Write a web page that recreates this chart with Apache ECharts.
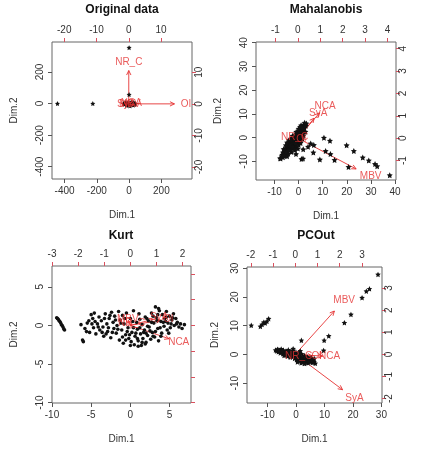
<!DOCTYPE html>
<html><head><meta charset="utf-8">
<script src="https://cdn.jsdelivr.net/npm/echarts@6/dist/echarts.min.js"></script>
<style>html,body{margin:0;padding:0;background:#fff}#c{width:428px;height:454px}</style>
</head><body><div id="c"></div>
<script>
const titles = ['Original data', 'Mahalanobis', 'Kurt', 'PCOut'];
const varNames = ['NR_C', 'Ol', 'SyA', 'MBV', 'NCA'];

// scores (primary axes)
const origPoints = [[-444,0],[-225,0],[0,354],[0,57],[-30,-5],[-20,3],[-10,-8],[0,0],[10,5],[20,-3],[30,2],[-15,-12],[5,-15],[25,-10],[-25,8],[15,10],[35,-6],[-35,0],[40,0],[-5,6],[8,-4],[18,4],[-12,-2],[28,7]];
const mahaPoints = [
 [-7.5,-8.8],[-6.5,-8.2],[-5.8,-7.5],[-6.8,-7.2],[-6.2,-7],[-5,-7.3],[-5.5,-6.5],[-4.3,-6.8],
 [-5.8,-5.5],[-4.5,-5.8],[-3.5,-5.2],[-5,-4.8],[-3,-6],[-5,-4],[-4,-3.6],[-3,-4.2],[-2,-4.6],[-4.5,-3],
 [-4.5,-2.5],[-3.5,-2],[-2.5,-2.8],[-1.5,-3],[-0.5,-2.2],[-3,-1.5],[-4,-1],[-3,-0.5],[-2,-1.2],[-1,-0.8],[0,-1.5],[1,-1],[-2.5,0],
 [-2.5,0.8],[-1.5,0.3],[-0.5,1],[0.5,0.2],[1.5,-0.3],[-1,1.8],[-1,2.5],[0,2],[1,1.5],[2,1],[0.5,3],
 [0,3.8],[1,3.5],[2,3],[2.8,2.5],[1.5,4.5],[1,5.2],[2,5.5],[3,5],[2.5,6.3],[3.2,6],[-2,-3.5],[-1,-3.8],[0,-3],[-3.8,-4.5],[-6,-6],
 [-6.5,-6.2],[-5.2,-6],[-4,-5],[-3.2,-3.2],[-2.2,-2],[-1.8,-0.5],[-0.8,0],[0.2,0.8],[0.8,2.3],[1.6,2.2],[0.3,-0.6],[-0.5,-1.6],[-1.3,-2.2],[-2.7,-3.8],[-3.8,-3],[-3.5,-0.8],[-2,0.6],[-0.2,1.4],[1.4,0.6],[2.4,4.2],[0.6,4.5],[1.8,3.8],[-4.8,-2],[-5.3,-3.2],[-6.2,-4.8],[-7,-7.8],[-4.8,-7.8],[0.8,-2.2],[-0.3,-4.5],[-1.5,-5.2],
 [10.5,0],[13,-1.3],[19.9,-3.2],[22.9,-5.6],[26.6,-8.3],[29.1,-9.6],[31.7,-11.1],[32.6,-12],[37.8,-15.8],[20.7,-12.3],[14.9,-9.4],[13.2,-6.9],[11.2,-5.6],[8.8,-9.2],[6.1,-6.2],[1.2,-9.0],[1.8,-8.8],[6.3,-3.1],[5,-2.4],[3.9,-3.8],[1.9,-4.9],[-1.1,-6.9],[-6.1,-7.6],[-7.7,-8.6]
];
const kurtPoints = [
 [-9.4,1.0],[-9.3,0.9],[-9.2,0.8],[-9.1,0.6],[-9.0,0.5],[-8.9,0.35],[-8.8,0.1],[-8.7,0.0],[-8.6,-0.2],[-8.5,-0.45],[-8.4,-0.6],
 [-6.3,0.1],[-6.1,-1.9],[-6.0,-2.1],[-5.8,-0.4],[-5.5,0.3],[-5.2,-0.9],[-5.0,1.4],[-4.8,0.9],[-4.7,-0.3],[-4.5,0.5],[-4.4,-1.1],[-4.2,0.2],[-4.0,1.1],[-3.9,-0.6],[-3.7,0.6],[-3.5,-0.2],[-3.4,-1.4],[-3.2,1.5],[-3.0,0.2],[-2.9,-0.8],[-2.7,0.9],
 [-5.6,-0.8],[-4.9,0.2],[-4.6,1.6],[-4.1,-0.2],[-3.6,-0.9],[-3.3,0.9],[-2.8,-0.3],[-2.6,1.3],[-3.1,-1.1],[-5.3,0.6],
 [-2.5,-1.6],[-2.4,1.7],[-2.2,0.4],[-2.1,-0.4],[-2.0,1.2],[-1.8,-1.0],[-1.7,0.0],[-1.5,1.8],[-1.4,-1.9],[-1.3,0.7],[-1.1,-0.6],[-1.0,1.3],[-0.9,-2.3],[-0.8,0.2],[-0.6,-1.2],[-0.5,1.6],[-0.3,-0.3],[-0.2,-1.7],[0.0,0.9],[0.1,-2.1],[0.2,-0.9],[0.4,1.9],[0.5,-2.5],[0.6,-1.4],[0.8,0.4],[0.9,-0.5],[1.0,-2.0],[1.1,1.5],[1.3,-1.1],[1.4,-2.6],[1.5,0.1],[1.6,-1.7],[1.8,-0.6],[1.9,1.1],[2.0,-2.2],[2.2,-1.3],[2.3,0.6],[2.4,-0.2],[2.6,-1.8],[2.7,1.6],[2.8,-0.9],[3.0,0.3],[3.1,-1.5],[3.2,2.4],[3.3,1.0],[3.5,-0.4],[3.6,-2.0],[3.7,1.9],[3.9,0.5],[4.0,-1.0],[4.1,1.4],[4.3,-0.1],[4.4,0.9],[4.6,1.8],[4.7,-0.6],[4.8,0.3],[5.0,1.2],[5.1,-0.3],[5.3,0.7],[5.5,1.5],[5.6,0.0],[5.8,0.9],[6.0,0.4],[6.2,-0.2],[6.4,0.2],[6.6,-0.4],
 [-1.2,0.3],[0.3,0.5],[1.2,-0.3],[2.1,0.9],[3.4,0.6],[4.5,0.5],[0.7,-1.0],[1.7,-0.9],[-0.4,-0.8],[2.5,-0.7],[3.8,-0.3],
 [-2.3,-0.9],[-1.9,0.7],[-1.6,-0.5],[-1.0,-1.5],[-0.7,0.9],[-0.1,-1.2],[0.4,-0.3],[0.9,-1.7],[1.2,0.8],[1.5,-2.2],[2.0,-1.0],[2.2,-0.1],[2.7,0.4],[2.9,-1.4],[3.2,-0.8],[3.5,1.4],[3.9,-1.4],[4.2,0.4],[4.6,1.1],[5.2,0.2],[5.4,1.0],[5.9,0.2],[4.9,-1.0],[1.0,-2.7],[0.0,-2.6],[-0.6,-1.9],[1.9,-2.4],[2.9,1.2],[3.6,2.2],[6.9,0.1]
];
const pcoPoints = [
 [-7.2,1.5],[-6.8,1.2],[-6.5,1.8],[-6.2,0.9],[-5.8,1.4],[-5.5,0.5],[-5.2,1.9],[-5.0,1.0],[-4.6,0.2],[-4.4,1.5],[-4.0,0.7],[-3.8,-0.2],[-3.5,1.2],[-3.2,0.3],[-3.0,-0.6],[-2.7,1.6],[-2.5,0.6],[-2.2,-0.3],[-2.0,-1.0],[-1.8,1.0],[-1.5,0.0],[-1.2,-0.8],[-1.0,1.4],[-0.8,0.4],[-0.5,-1.4],[-0.3,-0.5],[0.0,0.8],[0.2,-1.8],[0.5,-0.2],[0.8,-1.2],[1.0,0.5],[1.3,-2.2],[1.5,-0.7],[1.8,-1.6],[2.0,0.2],[2.3,-2.6],[2.5,-1.0],[2.8,-1.9],[3.0,-0.4],[3.3,-2.8],[3.5,-1.4],[3.8,-2.2],[4.0,-0.9],[4.3,-3.0],[4.6,-1.8],[5.0,-2.5],[5.3,-1.2],[5.7,-2.9],[6.0,-1.9],[6.4,-2.5],[6.8,-3.1],[-1.0,2.0],[1.5,1.2],
 [-6.0,1.6],[-4.8,1.2],[-3.6,0.4],[-2.4,1.0],[-1.3,0.6],[-0.1,-0.2],[1.0,-0.6],[2.2,-1.4],[3.4,-2.0],[4.5,-2.4],[5.6,-2.2],[0.5,-2.6],[1.8,-3.0],[3.0,-3.2],[-2.0,-0.4],[-4.2,-0.4],[6.4,-1.4],
 [28.8,27.8],[25.8,22.8],[24.7,22.0],[23.2,19.7],[19.3,13.9],[17.0,11.0],[11.5,6.4],[9.9,4.9],[9.7,1.4],[1.9,4.9],[-15.7,10.1],[-12.5,9.7],[-11.9,10.4],[-11.3,11.2],[-10.8,10.9],[-10.2,11.5],[-9.6,12.4]
];

// variable loadings (secondary axes), in varNames order
const origLoad = [[0,13.2],[17.7,0],[-0.8,0],[0.3,-0.2],[0.8,0.1]];
const mahaLoad = [[-0.15,0.05],[0.15,-0.05],[0.91,1.12],[3.25,-1.72],[1.21,1.42]];
const kurtLoad = [[0.05,0.08],[1.45,0.25],[1.1,0.3],[-0.1,0.25],[1.85,-0.65]];
const pcoLoad = [[0.15,-0.1],[0.95,-0.1],[2.66,-2.0],[2.2,2.45],[1.54,-0.1]];

// tick labels
const origBottom = [-400,-200,0,200], origLeft = [-400,-200,0,200], origTop = [-20,-10,0,10], origRight = [-20,-10,0,10];
const mahaBottom = [-10,0,10,20,30,40], mahaLeft = [-10,0,10,20,30,40], mahaTop = [-1,0,1,2,3,4], mahaRight = [-1,0,1,2,3,4];
const kurtBottom = [-10,-5,0,5], kurtLeft = [-10,-5,0,5], kurtTop = [-3,-2,-1,0,1,2], kurtRight = [-3,-2,-1,0,1,2];
const pcoBottom = [-10,0,10,20,30], pcoLeft = [-10,0,10,20,30], pcoTop = [-2,-1,0,1,2,3], pcoRight = [-2,-1,0,1,2,3];

const RED = '#e53232', TICKRED = '#d9505e', FONT = 'Liberation Sans';
const STAR = 'path://M0,-10L2.9,-4L9.5,-3.1L4.7,1.5L5.9,8.1L0,5L-5.9,8.1L-4.7,1.5L-9.5,-3.1L-2.9,-4Z';

const panels = [
 {points: origPoints, load: origLoad, sym: STAR, size: 5, ticks: [origBottom, origLeft, origTop, origRight],
  grid: {left:52, top:42, width:140, height:137}, xr:[-478,390], yr:[-478,390], sxr:[-23.8,19.6], syr:[-23.8,19.6], tx:122, ty:4, yGap:33, rightLabels:true},
 {points: mahaPoints, load: mahaLoad, sym: STAR, size: 6, ticks: [mahaBottom, mahaLeft, mahaTop, mahaRight],
  grid: {left:256, top:42, width:140, height:138}, xr:[-17.7,40.4], yr:[-17.8,40.3], sxr:[-1.87,4.38], syr:[-1.87,4.3], tx:326, ty:4, yGap:33, rightLabels:true},
 {points: kurtPoints, load: kurtLoad, sym: 'circle', size: 3.6, ticks: [kurtBottom, kurtLeft, kurtTop, kurtRight],
  grid: {left:52, top:266, width:139, height:137}, xr:[-10,7.74], yr:[-10.05,7.7], sxr:[-3,2.32], syr:[-3.02,2.31], tx:121, ty:230, yGap:33, rightLabels:false},
 {points: pcoPoints, load: pcoLoad, sym: STAR, size: 5.5, ticks: [pcoBottom, pcoLeft, pcoTop, pcoRight],
  grid: {left:247, top:267, width:135, height:136}, xr:[-17.2,30.2], yr:[-16.9,30.4], sxr:[-2.17,3.9], syr:[-2.2,3.95], tx:316, ty:230, yGap:27, rightLabels:true}
];

function arrowItem(params, api) {
  const p0 = api.coord([0, 0]);
  const p1 = api.coord([api.value(0), api.value(1)]);
  const ang = Math.atan2(p1[1] - p0[1], p1[0] - p0[0]);
  const L = 5, a = Math.PI / 7;
  const h1 = [p1[0] - L * Math.cos(ang - a), p1[1] - L * Math.sin(ang - a)];
  const h2 = [p1[0] - L * Math.cos(ang + a), p1[1] - L * Math.sin(ang + a)];
  return {type: 'group', children: [
    {type: 'line', shape: {x1: p0[0], y1: p0[1], x2: p1[0], y2: p1[1]}, style: {stroke: RED, lineWidth: 0.9}},
    {type: 'polyline', shape: {points: [h1, p1, h2]}, style: {stroke: RED, fill: null, lineWidth: 0.9}}
  ]};
}

const option = {animation: false, grid: [], xAxis: [], yAxis: [], series: [], graphic: []};
const lbl = {fontFamily: FONT, fontSize: 10, color: '#333'};
const noLine = {show: false, onZero: false};
panels.forEach((p, i) => {
  option.grid.push(Object.assign({show: true, borderColor: '#666', borderWidth: 1, containLabel: false}, p.grid));
  const [tb, tl, tt, tr] = p.ticks;
  option.xAxis.push({type: 'value', gridIndex: i, position: 'bottom', min: p.xr[0], max: p.xr[1],
    axisLine: noLine, splitLine: {show: false},
    axisTick: {show: true, length: 4, customValues: tb, lineStyle: {color: '#555'}},
    axisLabel: Object.assign({customValues: tb, margin: 7}, lbl),
    name: 'Dim.1', nameLocation: 'middle', nameGap: 31, nameTextStyle: {fontFamily: FONT, fontSize: 10, color: '#333'}});
  option.xAxis.push({type: 'value', gridIndex: i, position: 'top', min: p.sxr[0], max: p.sxr[1],
    axisLine: noLine, splitLine: {show: false},
    axisTick: {show: true, length: 4, customValues: tt, lineStyle: {color: TICKRED}},
    axisLabel: Object.assign({customValues: tt, margin: 7}, lbl)});
  option.yAxis.push({type: 'value', gridIndex: i, position: 'left', min: p.yr[0], max: p.yr[1],
    axisLine: noLine, splitLine: {show: false},
    axisTick: {show: true, length: 4, customValues: tl, lineStyle: {color: '#555'}},
    axisLabel: Object.assign({customValues: tl, margin: 7, rotate: 90}, lbl),
    name: 'Dim.2', nameLocation: 'middle', nameGap: p.yGap, nameRotate: 90, nameTextStyle: {fontFamily: FONT, fontSize: 10, color: '#333'}});
  option.yAxis.push({type: 'value', gridIndex: i, position: 'right', min: p.syr[0], max: p.syr[1],
    axisLine: noLine, splitLine: {show: false},
    axisTick: {show: true, length: 4, customValues: tr, lineStyle: {color: TICKRED}},
    axisLabel: Object.assign({customValues: tr, margin: 2, rotate: 90, show: p.rightLabels}, lbl)});

  option.series.push({type: 'scatter', xAxisIndex: 2*i, yAxisIndex: 2*i, data: p.points,
    symbol: p.sym, symbolSize: p.size, itemStyle: {color: '#111', opacity: 1}, silent: true});
  option.series.push({type: 'custom', xAxisIndex: 2*i+1, yAxisIndex: 2*i+1, renderItem: arrowItem,
    data: p.load.map(v => [v[0] * 0.8, v[1] * 0.8]), silent: true, clip: false});
  option.series.push({type: 'scatter', xAxisIndex: 2*i+1, yAxisIndex: 2*i+1,
    data: p.load.map((v, k) => ({name: varNames[k], value: v})),
    symbolSize: 1, itemStyle: {color: 'rgba(0,0,0,0)'}, silent: true,
    label: {show: true, position: 'inside', formatter: '{b}', color: RED, fontFamily: FONT, fontSize: 10}});
  option.graphic.push({type: 'text', x: p.tx, y: p.ty, style: {text: titles[i], fill: '#111', font: 'bold 12px "Liberation Sans"', textAlign: 'center'}});
});
echarts.init(document.getElementById('c')).setOption(option);
</script></body></html>
